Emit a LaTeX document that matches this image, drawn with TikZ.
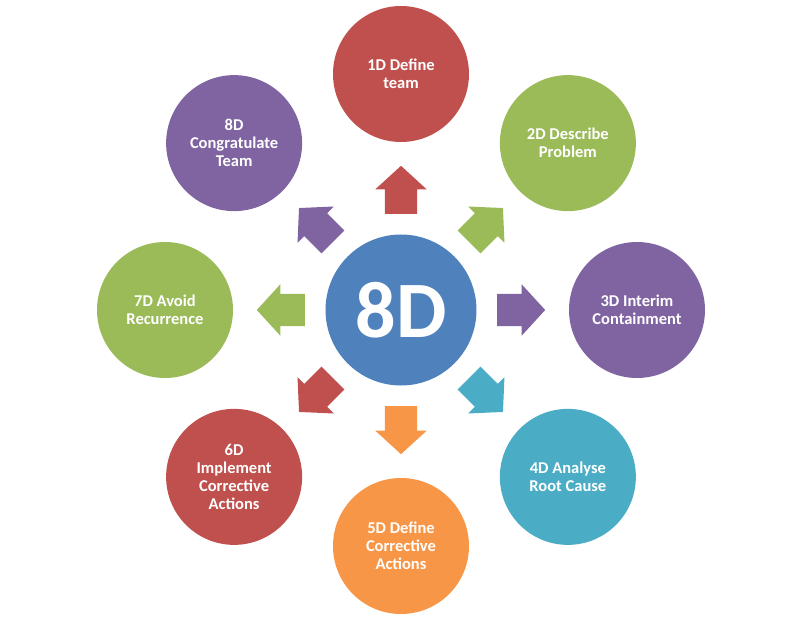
\documentclass[tikz,border=0pt]{standalone}
\usepackage{fontspec}
\setmainfont{Carlito}
\usepackage{xcolor}
\usepackage{tikz}
\usetikzlibrary{shapes.arrows}
\definecolor{hubblue}{HTML}{4F81BD}
\definecolor{dred}{HTML}{C0504D}
\definecolor{dgreen}{HTML}{9BBB59}
\definecolor{dpurple}{HTML}{8064A2}
\definecolor{daqua}{HTML}{4BACC6}
\definecolor{dorange}{HTML}{F79646}
\tikzstyle{hub} = [circle, minimum size=151pt, inner sep=0pt, fill=hubblue, text=white, font=\fontsize{80}{90}\selectfont\bfseries]
\tikzstyle{stage} = [circle, minimum size=136pt, inner sep=0pt, text=white, align=center, font=\fontsize{16.5}{18}\selectfont\bfseries]
\tikzstyle{pointer} = [single arrow, minimum height=48pt, inner xsep=0pt, inner ysep=16pt, single arrow head extend=9.5pt, single arrow tip angle=95, anchor=tail]

\begin{document}
\begin{tikzpicture}
\useasboundingbox (-401pt,-314pt) rectangle (395pt,310pt);
\node [hub] (hub) at (0,0) {\raisebox{1pt}{8D}};
% the eight disciplines
\node [stage, fill=dred] (d1) at (90:236pt) {1D Define\\team};
\node [stage, fill=dgreen] (d2) at (45:236pt) {2D Describe\\Problem};
\node [stage, fill=dpurple] (d3) at (0:236pt) {3D Interim\\Containment};
\node [stage, fill=daqua] (d4) at (-45:236pt) {4D Analyse\\Root Cause};
\node [stage, fill=dorange] (d5) at (-90:236pt) {5D Define\\Corrective\\Actions};
\node [stage, fill=dred] (d6) at (-135:236pt) {6D\\Implement\\Corrective\\Actions};
\node [stage, fill=dgreen] (d7) at (180:236pt) {7D Avoid\\Recurrence};
\node [stage, fill=dpurple] (d8) at (135:236pt) {8D\\Congratulate\\Team};
% arrows from the hub
\node [pointer, fill=dred, rotate=90] (p1) at (90:96pt) {};
\node [pointer, fill=dgreen, rotate=45] (p2) at (45:96pt) {};
\node [pointer, fill=dpurple, rotate=0] (p3) at (0:96pt) {};
\node [pointer, fill=daqua, rotate=-45] (p4) at (-45:96pt) {};
\node [pointer, fill=dorange, rotate=-90] (p5) at (-90:96pt) {};
\node [pointer, fill=dred, rotate=-135] (p6) at (-135:96pt) {};
\node [pointer, fill=dgreen, rotate=180] (p7) at (180:96pt) {};
\node [pointer, fill=dpurple, rotate=135] (p8) at (135:96pt) {};
\end{tikzpicture}
\end{document}
